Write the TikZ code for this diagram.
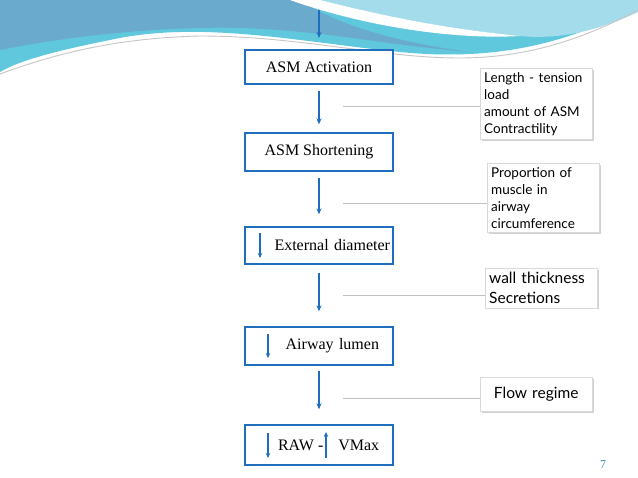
\documentclass[tikz,border=0pt]{standalone}
\usepackage{fontspec}
\setmainfont{Liberation Serif}
\newfontfamily\sidefont{Lato}
\usetikzlibrary{shadows,arrows.meta}
\definecolor{bl}{RGB}{31,110,190}
\definecolor{steel}{RGB}{105,170,205}
\definecolor{cyanM}{RGB}{95,200,220}
\definecolor{lightC}{RGB}{165,220,235}
\definecolor{tealC}{RGB}{60,140,180}
\begin{document}
\begin{tikzpicture}[x=1pt,y=-1pt,
 main/.style={draw=bl,line width=1.3pt,fill=white,minimum width=148pt,inner sep=0pt,font=\fontsize{16}{18}\selectfont},
 side/.style={draw=gray!30,fill=white,drop shadow={opacity=0.35,shadow xshift=1.5pt,shadow yshift=-1.5pt},align=left,anchor=north west,inner sep=4pt,text width=104pt,font=\sidefont\fontsize{13.5}{17}\selectfont},
 flow/.style={draw=bl,line width=1.4pt,-{Stealth[length=6pt,width=5pt]}},
 ia/.style={draw=bl,line width=1.2pt,-{Stealth[length=5pt,width=4.5pt]}},
 gl/.style={draw=gray!50,line width=0.7pt}]
\useasboundingbox (0,0) rectangle (638,478);
\fill[white] (0,0) rectangle (638,478);
% top wave background
\fill[cyanM] (0,0) -- (638,0) -- (638,5) .. controls (560,50) and (480,60) .. (400,52) .. controls (300,42) and (200,20) .. (110,40) .. controls (60,50) and (20,60) .. (0,72) -- cycle;
\fill[steel] (0,0) -- (300,0) .. controls (330,20) and (380,40) .. (470,52) .. controls (380,45) and (300,25) .. (200,28) .. controls (120,30) and (50,40) .. (0,50) -- cycle;
\fill[lightC] (320,0) -- (638,0) -- (638,12) .. controls (600,30) and (560,40) .. (520,36) .. controls (440,28) and (380,15) .. (320,0) -- cycle;
\fill[white] (290,0) -- (320,0) .. controls (380,15) and (440,28) .. (520,36) .. controls (450,40) and (360,25) .. (290,0) -- cycle;
\draw[gray!45,line width=0.9pt] (0,74) .. controls (60,52) and (120,38) .. (200,36) .. controls (300,36) and (380,58) .. (460,58) .. controls (540,58) and (600,30) .. (638,10);
% main boxes
\node[main,minimum height=34pt] (a) at (319,67) {ASM Activation};
\node[main,minimum height=38pt] (b) at (319,152) {ASM Shortening};
\node[main,minimum height=37pt,text width=142pt,align=right] (c) at (319,245.5) {External diameter};
\node[main,minimum height=38pt,text width=120pt,align=right] (d) at (319,346) {Airway lumen};
\node[main,minimum height=40pt] (e) at (319,445) {\makebox[148pt][l]{\hspace*{33pt}RAW -\hspace{15pt}VMax}};
% flow arrows
\coordinate (t0) at (319,10); \coordinate (t1) at (319,38);
\draw[flow] (t0) -- (t1);
\draw[flow] ([yshift=-6pt]a.south) -- ([yshift=8pt]b.north);
\draw[flow] ([yshift=-6pt]b.south) -- ([yshift=12pt]c.north);
\draw[flow] ([yshift=-8pt]c.south) -- ([yshift=15pt]d.north);
\draw[flow] ([yshift=-5pt]d.south) -- ([yshift=15pt]e.north);
% inline arrows
\coordinate (i1a) at (260,233); \coordinate (i1b) at (260,258);
\draw[ia] (i1a) -- (i1b);
\coordinate (i2a) at (268,334); \coordinate (i2b) at (268,358);
\draw[ia] (i2a) -- (i2b);
\coordinate (i3a) at (268,433); \coordinate (i3b) at (268,458);
\draw[ia] (i3a) -- (i3b);
\coordinate (i4a) at (326,458); \coordinate (i4b) at (326,432);
\draw[ia] (i4a) -- (i4b);
% side boxes
\node[side] (s1) at (480,68) {Length - tension\\load\\amount of ASM\\Contractility};
\node[side] (s2) at (487,163) {Proportion of\\muscle in\\airway\\circumference};
\node[side,font=\sidefont\fontsize{15.5}{20}\selectfont] (s3) at (485,268) {wall thickness\\Secretions};
\node[side,font=\sidefont\fontsize{15.5}{18}\selectfont,minimum height=34pt,align=center] (s4) at (480,377) {Flow regime};
% grey connectors
\coordinate (g1) at (343,106); \coordinate (g2) at (343,203);
\coordinate (g3) at (343,295); \coordinate (g4) at (343,398);
\draw[gl] (g1) -- (g1 -| s1.west);
\draw[gl] (g2) -- (g2 -| s2.west);
\draw[gl] (g3) -- (g3 -| s3.west);
\draw[gl] (g4) -- (g4 -| s4.west);
\node[text=tealC,font=\fontsize{12}{14}\selectfont] (pn) at (603,465) {7};
\end{tikzpicture}
\end{document}
